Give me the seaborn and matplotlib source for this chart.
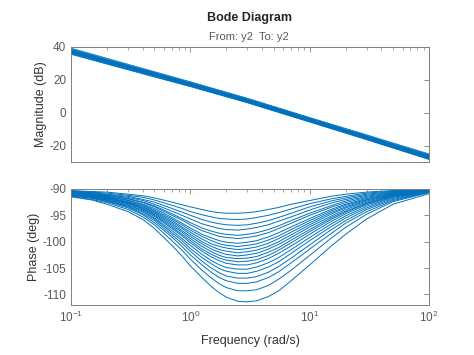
import matplotlib
matplotlib.use("Agg")
import matplotlib.pyplot as plt
import seaborn as sns
import pandas as pd
from matplotlib.ticker import LogLocator, NullFormatter, FixedLocator

# ---------------- data ----------------
FREQ_PHASE = [0.1, 0.15, 0.2, 0.3, 0.4, 0.5, 0.7, 0.85, 1.0, 1.25, 1.5, 1.75, 2.0,
              2.5, 3.0, 3.6, 4.5, 5.5, 7.0, 10, 15, 20, 30, 50, 100]
PHASE_DEG = [
    [-90.3, -90.5, -90.6, -91.0, -91.3, -91.7, -92.5, -93.0, -93.4, -93.9, -94.3, -94.5, -94.6, -94.6, -94.5, -94.3, -93.9, -93.5, -92.9, -92.2, -91.4, -91.0, -90.6, -90.3, -90.1],
    [-90.4, -90.6, -90.8, -91.2, -91.6, -92.1, -93.1, -93.7, -94.3, -94.9, -95.3, -95.6, -95.7, -95.8, -95.7, -95.4, -95.0, -94.5, -93.8, -92.8, -91.9, -91.4, -90.8, -90.4, -90.1],
    [-90.5, -90.7, -91.0, -91.4, -92.0, -92.5, -93.7, -94.4, -95.0, -95.8, -96.3, -96.6, -96.8, -96.9, -96.8, -96.5, -96.0, -95.4, -94.6, -93.4, -92.3, -91.7, -91.0, -90.5, -90.2],
    [-90.5, -90.8, -91.1, -91.6, -92.2, -92.9, -94.2, -95.0, -95.7, -96.6, -97.1, -97.5, -97.7, -97.8, -97.6, -97.3, -96.8, -96.1, -95.3, -94.0, -92.7, -92.0, -91.2, -90.6, -90.2],
    [-90.6, -90.9, -91.2, -91.8, -92.5, -93.2, -94.7, -95.6, -96.4, -97.4, -98.0, -98.4, -98.6, -98.8, -98.6, -98.3, -97.7, -97.0, -96.0, -94.6, -93.2, -92.3, -91.4, -90.7, -90.2],
    [-90.7, -91.0, -91.3, -91.9, -92.6, -93.4, -95.0, -95.9, -96.8, -97.9, -98.5, -99.0, -99.2, -99.4, -99.2, -98.9, -98.3, -97.5, -96.5, -95.0, -93.5, -92.6, -91.6, -90.8, -90.2],
    [-90.7, -91.1, -91.4, -92.1, -92.9, -93.7, -95.4, -96.5, -97.4, -98.6, -99.3, -99.8, -100.1, -100.3, -100.1, -99.8, -99.1, -98.3, -97.2, -95.6, -93.9, -92.9, -91.8, -90.9, -90.3],
    [-90.8, -91.1, -91.5, -92.2, -93.0, -94.0, -95.7, -96.8, -97.8, -99.0, -99.8, -100.4, -100.7, -100.9, -100.7, -100.4, -99.7, -98.9, -97.7, -96.0, -94.2, -93.1, -92.0, -91.0, -90.3],
    [-90.8, -91.2, -91.6, -92.4, -93.2, -94.2, -96.0, -97.2, -98.2, -99.5, -100.4, -100.9, -101.2, -101.5, -101.3, -101.0, -100.3, -99.4, -98.2, -96.4, -94.5, -93.4, -92.1, -91.0, -90.3],
    [-90.8, -91.2, -91.7, -92.5, -93.4, -94.4, -96.3, -97.5, -98.6, -100.0, -100.9, -101.5, -101.8, -102.1, -101.9, -101.6, -100.9, -100.0, -98.7, -96.8, -94.8, -93.6, -92.3, -91.1, -90.4],
    [-90.9, -91.3, -91.7, -92.6, -93.5, -94.6, -96.6, -97.9, -99.0, -100.4, -101.4, -102.0, -102.4, -102.7, -102.5, -102.2, -101.4, -100.5, -99.2, -97.2, -95.2, -93.9, -92.5, -91.2, -90.4],
    [-90.9, -91.4, -91.8, -92.7, -93.7, -94.8, -96.9, -98.2, -99.4, -100.9, -101.9, -102.6, -103.0, -103.2, -103.1, -102.8, -102.0, -101.1, -99.7, -97.7, -95.5, -94.2, -92.7, -91.3, -90.4],
    [-91.0, -91.4, -91.9, -92.8, -93.8, -95.0, -97.2, -98.6, -99.8, -101.4, -102.4, -103.1, -103.5, -103.8, -103.7, -103.4, -102.6, -101.6, -100.2, -98.1, -95.8, -94.4, -92.8, -91.4, -90.4],
    [-91.0, -91.5, -92.0, -93.0, -94.0, -95.2, -97.5, -98.9, -100.2, -101.8, -102.9, -103.6, -104.1, -104.4, -104.4, -104.0, -103.2, -102.2, -100.8, -98.6, -96.2, -94.7, -93.0, -91.5, -90.5],
    [-91.1, -91.6, -92.1, -93.1, -94.2, -95.5, -97.9, -99.4, -100.7, -102.4, -103.6, -104.4, -104.9, -105.2, -105.2, -104.8, -104.0, -103.0, -101.5, -99.2, -96.7, -95.1, -93.3, -91.6, -90.5],
    [-91.1, -91.6, -92.2, -93.3, -94.4, -95.7, -98.3, -99.8, -101.3, -103.0, -104.2, -105.1, -105.6, -106.0, -106.0, -105.6, -104.8, -103.8, -102.2, -99.8, -97.2, -95.5, -93.6, -91.8, -90.5],
    [-91.2, -91.7, -92.3, -93.4, -94.7, -96.0, -98.7, -100.3, -101.8, -103.7, -105.0, -105.9, -106.5, -106.9, -106.9, -106.6, -105.8, -104.7, -103.1, -100.6, -97.8, -96.0, -93.9, -92.0, -90.6],
    [-91.3, -91.8, -92.4, -93.6, -94.9, -96.4, -99.1, -100.9, -102.5, -104.4, -105.8, -106.8, -107.4, -107.9, -107.9, -107.6, -106.8, -105.7, -104.0, -101.4, -98.5, -96.5, -94.3, -92.2, -90.6],
    [-91.4, -92.0, -92.6, -93.9, -95.3, -96.8, -99.8, -101.6, -103.3, -105.4, -106.9, -108.0, -108.7, -109.3, -109.3, -109.1, -108.3, -107.1, -105.4, -102.6, -99.4, -97.3, -94.8, -92.4, -90.7],
    [-91.5, -92.1, -92.9, -94.3, -95.8, -97.5, -100.7, -102.7, -104.6, -106.8, -108.5, -109.7, -110.5, -111.3, -111.4, -111.2, -110.4, -109.3, -107.4, -104.4, -100.9, -98.6, -95.7, -92.9, -90.9],
]

FREQ_MAG = [0.1, 0.3, 1.0, 3.0, 10, 30, 100]
MAG_DB = [
    [35.3, 25.9, 15.7, 5.9, -5.8, -16.5, -28.5],
    [35.6, 26.1, 15.9, 6.1, -5.6, -16.3, -28.3],
    [35.8, 26.4, 16.1, 6.3, -5.4, -16.1, -28.0],
    [36.0, 26.6, 16.3, 6.4, -5.3, -15.9, -27.9],
    [36.3, 26.8, 16.5, 6.6, -5.1, -15.8, -27.7],
    [36.4, 26.9, 16.6, 6.7, -5.0, -15.6, -27.5],
    [36.6, 27.1, 16.7, 6.9, -4.9, -15.5, -27.4],
    [36.7, 27.2, 16.8, 7.0, -4.8, -15.4, -27.2],
    [36.9, 27.3, 16.9, 7.1, -4.7, -15.3, -27.1],
    [37.0, 27.4, 17.0, 7.2, -4.6, -15.2, -27.0],
    [37.1, 27.5, 17.2, 7.3, -4.5, -15.1, -26.9],
    [37.3, 27.7, 17.3, 7.4, -4.3, -14.9, -26.7],
    [37.4, 27.8, 17.4, 7.5, -4.2, -14.8, -26.6],
    [37.5, 27.9, 17.5, 7.6, -4.2, -14.7, -26.5],
    [37.7, 28.1, 17.6, 7.7, -4.0, -14.6, -26.3],
    [37.9, 28.2, 17.8, 7.8, -3.9, -14.4, -26.2],
    [38.1, 28.4, 17.9, 8.0, -3.7, -14.3, -26.0],
    [38.3, 28.6, 18.1, 8.1, -3.6, -14.1, -25.8],
    [38.7, 28.9, 18.3, 8.4, -3.3, -13.9, -25.5],
    [39.1, 29.3, 18.7, 8.7, -3.0, -13.5, -25.1],
]

MAG_TICKS = [-20, 0, 20, 40]
PHASE_TICKS = [-110, -105, -100, -95, -90]

TITLE = "Bode Diagram"
SUBTITLE = "From: y2  To: y2"
MAG_LABEL = "Magnitude (dB)"
PHASE_LABEL = "Phase (deg)"
X_LABEL = "Frequency (rad/s)"

# ---------------- build tables ----------------
mag_rows = []
for i, vals in enumerate(MAG_DB):
    for f, v in zip(FREQ_MAG, vals):
        mag_rows.append({"curve": i, "freq": f, "mag": v})
df_mag = pd.DataFrame(mag_rows)

ph_rows = []
for i, vals in enumerate(PHASE_DEG):
    for f, v in zip(FREQ_PHASE, vals):
        ph_rows.append({"curve": i, "freq": f, "phase": v})
df_ph = pd.DataFrame(ph_rows)

# ---------------- style ----------------
sns.set_style("white")
plt.rcParams["font.family"] = ["Liberation Sans", "DejaVu Sans"]
plt.rcParams["mathtext.fontset"] = "custom"
plt.rcParams["mathtext.rm"] = "Liberation Sans"
plt.rcParams["mathtext.it"] = "Liberation Sans:italic"
plt.rcParams["axes.unicode_minus"] = False

LINE = "#0072BD"
AX_COL = "#7f7f7f"
TXT_COL = "#595959"

fig = plt.figure(figsize=(4.74, 3.55), dpi=100)
ax1 = fig.add_axes([0.150, 0.5437, 0.755, 0.325])
ax2 = fig.add_axes([0.150, 0.1408, 0.755, 0.327])

sns.lineplot(data=df_mag, x="freq", y="mag", units="curve", estimator=None,
             color=LINE, lw=0.55, ax=ax1, legend=False)
sns.lineplot(data=df_ph, x="freq", y="phase", units="curve", estimator=None,
             color=LINE, lw=0.7, ax=ax2, legend=False)

for ax in (ax1, ax2):
    ax.set_xscale("log")
    ax.set_xlim(0.1, 100)
    ax.xaxis.set_major_locator(LogLocator(base=10, numticks=10))
    ax.xaxis.set_minor_locator(LogLocator(base=10, subs=range(2, 10), numticks=20))
    ax.xaxis.set_minor_formatter(NullFormatter())
    ax.tick_params(which="both", direction="in", top=True, right=True,
                   color=AX_COL, labelcolor=TXT_COL, labelsize=8.5)
    ax.tick_params(which="major", length=3.5, width=0.6)
    ax.tick_params(which="minor", length=2, width=0.5)
    for s in ax.spines.values():
        s.set_color(AX_COL)
        s.set_linewidth(0.7)
    ax.grid(False)

ax1.set_ylim(-30, 40)
ax1.yaxis.set_major_locator(FixedLocator(MAG_TICKS))
ax1.tick_params(axis="x", which="both", labelbottom=False)
ax1.set_xlabel("")
ax1.set_ylabel(MAG_LABEL, fontsize=9, color="#333333")
ax1.yaxis.set_label_coords(-0.068, 0.5)

ax2.set_ylim(-112, -90)
ax2.yaxis.set_major_locator(FixedLocator(PHASE_TICKS))
ax2.set_xlabel(X_LABEL, fontsize=9, color="#333333", labelpad=7)
ax2.set_ylabel(PHASE_LABEL, fontsize=9, color="#333333")
ax2.yaxis.set_label_coords(-0.088, 0.5)

fig.text(0.526, 0.950, TITLE, ha="center", va="center", fontsize=9,
         fontweight="bold", color="#262626")
fig.text(0.526, 0.895, SUBTITLE, ha="center", va="center", fontsize=8,
         color=TXT_COL)

fig.savefig("out.png", dpi=100)
